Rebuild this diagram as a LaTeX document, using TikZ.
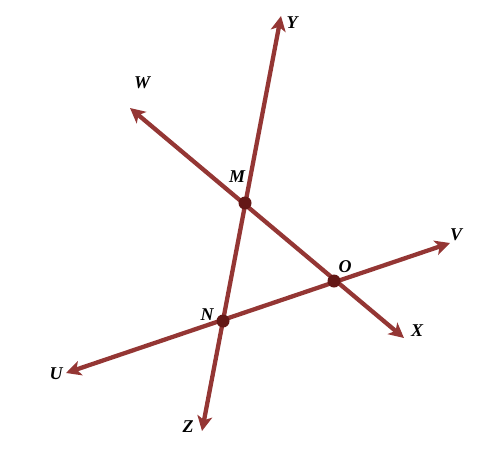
\documentclass[tikz,border=0pt]{standalone}
\usepackage{fontspec}
\setmainfont{Liberation Serif}
\usetikzlibrary{arrows.meta}
\definecolor{linered}{RGB}{148,54,52}
\definecolor{dotred}{RGB}{100,24,22}

\begin{document}
\begin{tikzpicture}[x=1pt,y=-1pt,>={Stealth[length=15pt,width=15pt,inset=4pt]}]

	\tikzstyle{ray} = [linered, line width=4.3pt, <->]
	\tikzstyle{pt}  = [circle, fill=dotred, inner sep=0pt, minimum size=13pt]
	\tikzstyle{lab} = [font=\bfseries\itshape\fontsize{18}{21}\selectfont, inner sep=0pt]

	\useasboundingbox (0,0) rectangle (478,460);

	% arrow tips
	\coordinate (Y) at (281,16);
	\coordinate (Z) at (202,431);
	\coordinate (W) at (130,108);
	\coordinate (X) at (404,338);
	\coordinate (U) at (66,373);
	\coordinate (V) at (450,243);

	\draw [ray] (Z) -- (Y);
	\draw [ray] (W) -- (X);
	\draw [ray] (U) -- (V);

	% intersection points
	\node [pt] (m) at (245,203) {};
	\node [pt] (n) at (223,321) {};
	\node [pt] (o) at (334,281) {};

	% labels
	\node [lab] (lY) at (292,23)  {Y};
	\node [lab] (lZ) at (188,427) {Z};
	\node [lab] (lW) at (142,83)  {W};
	\node [lab] (lX) at (417,331) {X};
	\node [lab] (lU) at (56,374)  {U};
	\node [lab] (lV) at (456,235) {V};
	\node [lab] (lM) at (237,177) {M};
	\node [lab] (lN) at (207,315) {N};
	\node [lab] (lO) at (345,267) {O};

\end{tikzpicture}
\end{document}
